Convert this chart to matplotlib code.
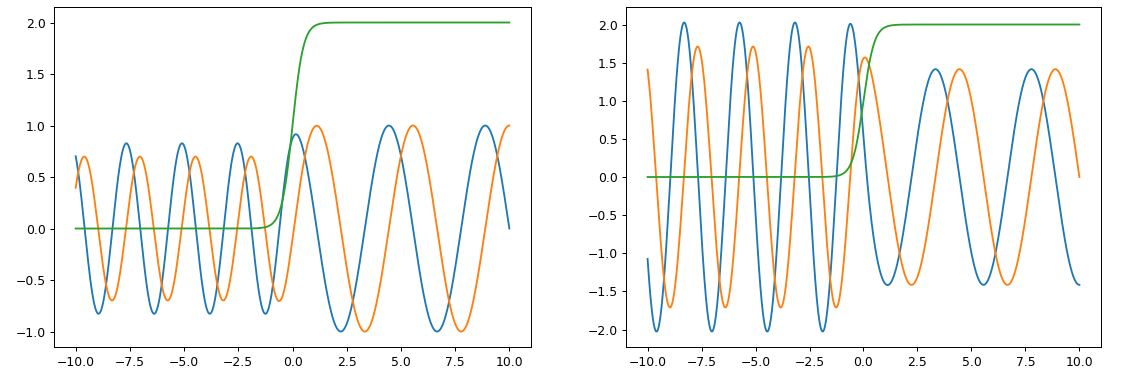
import matplotlib
matplotlib.use("Agg")
import matplotlib.pyplot as plt
import numpy as np

# values
x_range = [-10.0, 10.0]
energy = 3.0            # wave number^2 / 2 on the left (sqrt(6)) and right (sqrt(2))
barrier_height = 2.0    # green curve plateau
barrier_steepness = 4.0
# state (psi, dpsi) at x = 10 for the blue and the orange curve
end_blue = [0.0, -1.414]
end_orange = [1.0, 0.0]
series_colors = ["C0", "C1", "C2"]

plt.rcParams.update({
    "font.size": 8.9,
    "lines.linewidth": 1.33,
    "axes.linewidth": 0.71,
    "xtick.major.size": 3.1,
    "ytick.major.size": 3.1,
    "xtick.major.width": 0.71,
    "ytick.major.width": 0.71,
    "xtick.major.pad": 3.1,
    "ytick.major.pad": 3.1,
})


def potential(x):
    return barrier_height / (1.0 + np.exp(-barrier_steepness * x))


def deriv(x, state):
    psi, dpsi = state
    return np.array([dpsi, -2.0 * (energy - potential(x)) * psi])


def integrate_back(end_state, xs):
    # RK4 from the right end to the left end
    out = np.zeros((len(xs), 2))
    out[-1] = end_state
    for i in range(len(xs) - 1, 0, -1):
        h = xs[i - 1] - xs[i]
        x, y = xs[i], out[i]
        k1 = deriv(x, y)
        k2 = deriv(x + h / 2, y + h / 2 * k1)
        k3 = deriv(x + h / 2, y + h / 2 * k2)
        k4 = deriv(x + h, y + h * k3)
        out[i - 1] = y + h / 6 * (k1 + 2 * k2 + 2 * k3 + k4)
    return out


xs = np.linspace(x_range[0], x_range[1], 2001)
blue = integrate_back(end_blue, xs)
orange = integrate_back(end_orange, xs)
green = potential(xs)

fig = plt.figure(figsize=(11.32, 3.71), dpi=100)
ax1 = fig.add_axes([0.0477, 0.0647, 0.4214, 0.9163])
ax2 = fig.add_axes([0.5530, 0.0647, 0.4196, 0.9163])

for ax, col in ((ax1, 0), (ax2, 1)):
    ax.plot(xs, blue[:, col], color=series_colors[0])
    ax.plot(xs, orange[:, col], color=series_colors[1])
    ax.plot(xs, green, color=series_colors[2])

fig.savefig("out.png", dpi=100)
